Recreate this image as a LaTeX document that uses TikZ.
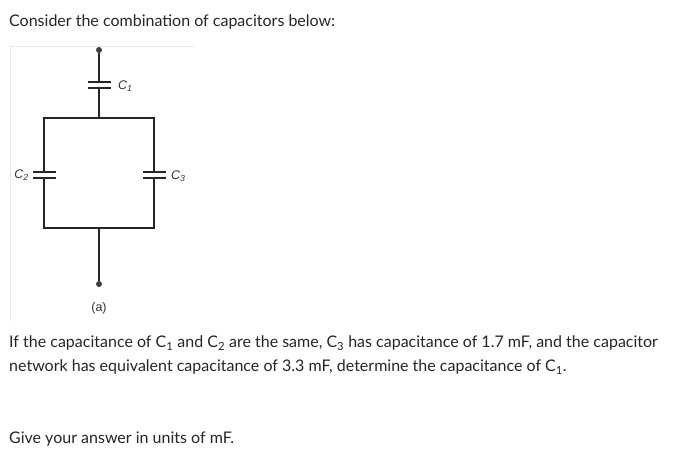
\documentclass[tikz,border=0pt]{standalone}
\usepackage{fontspec}
\setmainfont{Lato}
\newfontfamily\lblfont{Liberation Sans}
\begin{document}
\begin{tikzpicture}[x=1pt,y=-1pt,
  wire/.style={line width=1.8pt,draw=black!85},
  plate/.style={line width=2pt,draw=black!85},
  dot/.style={circle,fill=black!75,inner sep=0pt,minimum size=6pt},
  txt/.style={anchor=west,inner sep=0pt,font=\fontsize{16}{19}\selectfont,text=black!85},
  lbl/.style={inner sep=0pt,font=\lblfont\fontsize{12.5}{14}\selectfont\itshape,text=black!80}]
\useasboundingbox[fill=white] (0,0) rectangle (679,469);
\draw[black!8,line width=0.8pt] (10,320) -- (10,46) -- (195,46);
\node[dot] (top) at (99,50) {};
\node[dot] (bot) at (99,284) {};
\coordinate (c1a) at (99,82); \coordinate (c1b) at (99,88);
\coordinate (tl) at (44,118); \coordinate (tr) at (154,118);
\coordinate (bl) at (44,228); \coordinate (br) at (154,228);
\coordinate (tm) at (99,118); \coordinate (bm) at (99,228);
\coordinate (c2a) at (44,172); \coordinate (c2b) at (44,178);
\coordinate (c3a) at (154,172); \coordinate (c3b) at (154,178);
\draw[wire] (top) -- (c1a);
\draw[wire] (c1b) -- (tm);
\draw[wire] (c2a) -- (tl) -- (tr) -- (c3a);
\draw[wire] (c2b) -- (bl) -- (br) -- (c3b);
\draw[wire] (bm) -- (bot);
\draw[plate] (88,82) -- (111,82) (88,88) -- (111,88);
\draw[plate] (33,172) -- (56,172) (33,178) -- (56,178);
\draw[plate] (143,172) -- (166,172) (143,178) -- (166,178);
\node[lbl,anchor=west] (l1) at (118,86) {C\textsubscript{1}};
\node[lbl,anchor=east] (l2) at (29,175) {C\textsubscript{2}};
\node[lbl,anchor=west] (l3) at (171,176) {C\textsubscript{3}};
\node[inner sep=0pt,font=\lblfont\fontsize{12.5}{14}\selectfont,text=black!80] (a) at (99,308) {(a)};
\node[txt] (t1) at (9,22) {Consider the combination of capacitors below:};
\node[txt] (t2) at (9,343) {If the capacitance of C\textsubscript{1} and C\textsubscript{2} are the same, C\textsubscript{3} has capacitance of 1.7 mF, and the capacitor};
\node[txt] (t3) at (9,367) {network has equivalent capacitance of 3.3 mF, determine the capacitance of C\textsubscript{1}.};
\node[txt] (t4) at (9,439) {Give your answer in units of mF.};
\end{tikzpicture}
\end{document}
